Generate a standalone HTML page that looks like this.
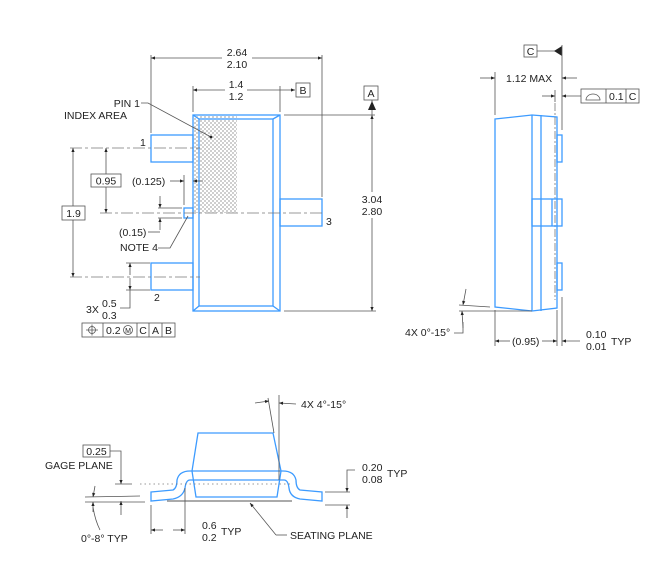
<!DOCTYPE html>
<html><head><meta charset="utf-8"><style>
html,body{margin:0;padding:0;background:#fff}
svg{display:block}
text{font-family:"Liberation Sans",sans-serif;font-size:10.5px;fill:#222}
.b{fill:none;stroke:#3d9bff;stroke-width:1.3}
.g{fill:none;stroke:#555;stroke-width:0.8}
.c{fill:none;stroke:#777;stroke-width:0.8;stroke-dasharray:12 3 3 3}
.bx{fill:#fff;stroke:#555;stroke-width:0.8}
</style></head><body>
<svg width="650" height="588" viewBox="0 0 650 588" xmlns="http://www.w3.org/2000/svg">
<defs>
<marker id="a" viewBox="0 0 10 10" refX="10" refY="5" markerWidth="7" markerHeight="5" orient="auto-start-reverse"><path d="M0,1 L10,5 L0,9 z" fill="#222"/></marker>
<pattern id="dots" width="4" height="4" patternUnits="userSpaceOnUse"><circle cx="1" cy="1" r="0.6" fill="#555"/><circle cx="3" cy="3" r="0.6" fill="#555"/></pattern>
</defs>

<!-- TOP VIEW -->
<rect x="193" y="115" width="44" height="98" fill="url(#dots)"/>
<rect class="b" x="193" y="115" width="87" height="196"/>
<rect class="b" x="199" y="119" width="74" height="187"/>
<path class="b" d="M193,115 L199,119 M280,115 L273,119 M193,311 L199,306 M280,311 L273,306"/>
<rect class="b" x="151" y="135" width="42" height="27"/>
<rect class="b" x="151" y="263" width="42" height="27"/>
<rect class="b" x="280" y="199" width="42" height="27"/>
<rect class="b" x="184" y="208" width="9" height="10"/>
<line class="c" x1="70" y1="148" x2="200" y2="148"/>
<line class="c" x1="100" y1="213" x2="325" y2="213"/>
<line class="c" x1="70" y1="277" x2="200" y2="277"/>
<!-- 2.64 -->
<path class="g" d="M151,133 V55 M322,197 V55"/>
<line class="g" x1="151" y1="58" x2="322" y2="58" marker-start="url(#a)" marker-end="url(#a)"/>
<rect x="222" y="46" width="30" height="26" fill="#fff"/>
<text x="237" y="56" text-anchor="middle">2.64</text><text x="237" y="68" text-anchor="middle">2.10</text>
<!-- 1.4 -->
<path class="g" d="M193,112 V86 M280,112 V86"/>
<line class="g" x1="193" y1="90" x2="295" y2="90" marker-start="url(#a)" marker-end="url(#a)"/>
<rect x="225" y="78" width="22" height="24" fill="#fff"/>
<text x="236" y="88" text-anchor="middle">1.4</text><text x="236" y="100" text-anchor="middle">1.2</text>
<rect class="bx" x="296" y="83" width="14" height="14"/><text x="303" y="94" text-anchor="middle">B</text>
<!-- A / 3.04 -->
<rect class="bx" x="364" y="86" width="14" height="14"/><text x="371" y="97" text-anchor="middle">A</text>
<line class="g" x1="284" y1="115" x2="375" y2="115"/>
<line class="g" x1="284" y1="311" x2="376" y2="311"/>
<line class="g" x1="372" y1="100" x2="372" y2="115"/>
<line class="g" x1="372" y1="115" x2="372" y2="311" marker-start="url(#a)" marker-end="url(#a)"/>
<path d="M368,110 L372,101 L376,110 z" fill="#222"/>
<rect x="357" y="192" width="30" height="26" fill="#fff"/>
<text x="372" y="203" text-anchor="middle">3.04</text><text x="372" y="215" text-anchor="middle">2.80</text>
<!-- 1.9 -->
<line class="g" x1="73" y1="148" x2="73" y2="277" marker-start="url(#a)" marker-end="url(#a)"/>
<rect class="bx" x="62" y="206" width="23" height="14"/><text x="73.5" y="217" text-anchor="middle">1.9</text>
<!-- 0.95 -->
<line class="g" x1="106" y1="148" x2="106" y2="213" marker-start="url(#a)" marker-end="url(#a)"/>
<rect class="bx" x="91" y="174" width="30" height="13"/><text x="106" y="184.5" text-anchor="middle">0.95</text>
<!-- 0.125 -->
<line class="g" x1="184" y1="175" x2="184" y2="205"/>
<line class="g" x1="170" y1="181" x2="184" y2="181" marker-end="url(#a)"/>
<line class="g" x1="203" y1="181" x2="193" y2="181" marker-end="url(#a)"/>
<text x="132" y="185">(0.125)</text>
<!-- 0.15 -->
<path class="g" d="M158,208 H182 M158,218 H182"/>
<line class="g" x1="160" y1="196" x2="160" y2="208" marker-end="url(#a)"/>
<line class="g" x1="160" y1="230" x2="160" y2="218" marker-end="url(#a)"/>
<line class="g" x1="148" y1="232" x2="160" y2="232"/>
<text x="119" y="236">(0.15)</text>
<text x="120" y="251">NOTE 4</text>
<path class="g" d="M158,248 H170 L188,216"/>
<!-- 0.5 -->
<path class="g" d="M126,263 H150 M126,290 H150"/>
<line class="g" x1="130" y1="275" x2="130" y2="263" marker-end="url(#a)"/>
<line class="g" x1="130" y1="278" x2="130" y2="290" marker-end="url(#a)"/>
<path class="g" d="M130,290 V308 H120"/>
<text x="86" y="313">3X</text><text x="102" y="307">0.5</text><text x="102" y="319">0.3</text>
<!-- FCF -->
<rect class="bx" x="82" y="323" width="93" height="14"/>
<path class="g" d="M103,323 V337 M137,323 V337 M149,323 V337 M162,323 V337"/>
<circle cx="92" cy="330" r="3.5" class="g"/><path class="g" d="M86,330 H98 M92,324.5 V335.5"/>
<text x="106" y="334">0.2</text><circle cx="128" cy="330" r="4.5" class="g"/><text x="128" y="333" text-anchor="middle" style="font-size:7px">M</text>
<text x="143" y="334" text-anchor="middle">C</text><text x="155.5" y="334" text-anchor="middle">A</text><text x="168.5" y="334" text-anchor="middle">B</text>
<!-- pin1 -->
<text x="140" y="107" text-anchor="end">PIN 1</text><text x="64" y="119">INDEX AREA</text>
<path class="g" d="M141,103 H148 L211,137"/><circle cx="211" cy="137" r="1.3" fill="#222"/>
<text x="140" y="146">1</text><text x="154" y="301">2</text><text x="326" y="225">3</text>

<!-- SIDE VIEW -->
<rect class="bx" x="524" y="45" width="13" height="12"/><text x="530.5" y="55" text-anchor="middle">C</text>
<line class="g" x1="537" y1="51" x2="556" y2="51"/><path d="M554,51 L562,46 L562,56 z" fill="#222"/>
<path class="g" d="M562,45 V130 M562,297 V346"/>
<path class="g" d="M495,72 V115 M495,310 V346 M557,310 V346"/>
<line class="g" x1="480" y1="78" x2="495" y2="78" marker-end="url(#a)"/>
<line class="g" x1="577" y1="78" x2="562" y2="78" marker-end="url(#a)"/>
<text x="506" y="82">1.12 MAX</text>
<line class="g" x1="542" y1="96" x2="555" y2="96" marker-end="url(#a)"/>
<line class="g" x1="581" y1="96" x2="562" y2="96" marker-end="url(#a)"/>
<path class="g" d="M555,90 V102"/>
<rect class="bx" x="581" y="89" width="58" height="14"/>
<path class="g" d="M606,89 V103 M626,89 V103"/>
<path class="g" d="M586,100 A7,6 0 0 1 600,100 Z"/>
<text x="609" y="100">0.1</text><text x="632.5" y="100" text-anchor="middle">C</text>
<path class="b" d="M495,119 L532,115 L557,117 L557,308 L532,311 L495,307 Z"/>
<path class="b" d="M532,115 V311 M541,115 V311"/>
<line x1="555" y1="103" x2="555" y2="300" stroke="#777" stroke-width="0.8" stroke-dasharray="8 2 2 2"/>
<rect class="b" x="557" y="135" width="5" height="27"/>
<rect class="b" x="557" y="263" width="5" height="27"/>
<rect class="b" x="532" y="199" width="30" height="27"/>
<path class="b" d="M552,199 V226"/>
<path class="g" d="M459,305 L490,307 M459,311 H532"/>
<line class="g" x1="466" y1="289" x2="463" y2="305" marker-end="url(#a)"/>
<line class="g" x1="463" y1="328" x2="462" y2="311" marker-end="url(#a)"/>
<path class="g" d="M463,322 V333 H454"/>
<text x="405" y="336">4X 0°-15°</text>
<line class="g" x1="510" y1="341" x2="495" y2="341" marker-end="url(#a)"/>
<line class="g" x1="542" y1="341" x2="557" y2="341" marker-end="url(#a)"/>
<text x="512" y="345">(0.95)</text>
<line class="g" x1="580" y1="341" x2="562" y2="341" marker-end="url(#a)"/>
<text x="586" y="338">0.10</text><text x="586" y="350">0.01</text><text x="611" y="345">TYP</text>

<!-- FRONT VIEW -->
<path class="b" d="M198,433 L273,433 L281,471 L277,497 L196,497 L192,471 Z"/>
<path class="b" d="M151,492 L173,490 Q177,488 177,480 Q179,471 190,471 L283,471 Q294,471 296,480 Q296,488 300,490 L322,492 L322,501 L300,499 Q290,497 289,488 Q288,480 284,480 L190,480 Q186,480 185,488 Q183,497 173,499 L151,501 Z"/>
<line x1="140" y1="484" x2="292" y2="484" stroke="#777" stroke-width="0.8" stroke-dasharray="1.5 3"/>
<line x1="167" y1="501" x2="292" y2="501" stroke="#555" stroke-width="1"/>
<path class="g" d="M268,398 L274,433 M279,395 V480"/>
<line class="g" x1="255" y1="403" x2="269" y2="401" marker-end="url(#a)"/>
<line class="g" x1="296" y1="404" x2="279" y2="403" marker-end="url(#a)"/>
<text x="301" y="408">4X 4°-15°</text>
<rect class="bx" x="83" y="445" width="27" height="12"/><text x="96.5" y="455" text-anchor="middle">0.25</text>
<path class="g" d="M110,451 H121 V474"/>
<line class="g" x1="121" y1="474" x2="121" y2="484" marker-end="url(#a)"/>
<line class="g" x1="115" y1="484" x2="132" y2="484"/>
<line class="g" x1="121" y1="515" x2="121" y2="501" marker-end="url(#a)"/>
<text x="45" y="469">GAGE PLANE</text>
<path class="g" d="M85,502 H145 M85,497 L140,496"/>
<line class="g" x1="95" y1="486" x2="93" y2="497" marker-end="url(#a)"/>
<line class="g" x1="93" y1="512" x2="93" y2="502" marker-end="url(#a)"/>
<path class="g" d="M93,507 Q95,520 100,530"/>
<text x="81" y="542">0°-8°  TYP</text>
<path class="g" d="M151,505 V534 M185,488 V534"/>
<line class="g" x1="163" y1="530" x2="151" y2="530" marker-end="url(#a)"/>
<line class="g" x1="173" y1="530" x2="185" y2="530" marker-end="url(#a)"/>
<text x="202" y="529">0.6</text><text x="202" y="541">0.2</text><text x="221" y="535">TYP</text>
<line class="g" x1="276" y1="535" x2="250" y2="503" marker-end="url(#a)"/>
<path class="g" d="M276,535 H287"/>
<text x="290" y="539">SEATING PLANE</text>
<path class="g" d="M325,492 H350 M325,505 H350"/>
<line class="g" x1="347" y1="478" x2="347" y2="492" marker-end="url(#a)"/>
<line class="g" x1="347" y1="518" x2="347" y2="505" marker-end="url(#a)"/>
<path class="g" d="M347,478 V470 H355"/>
<text x="362" y="471">0.20</text><text x="362" y="483">0.08</text><text x="387" y="477">TYP</text>
</svg>
</body></html>
